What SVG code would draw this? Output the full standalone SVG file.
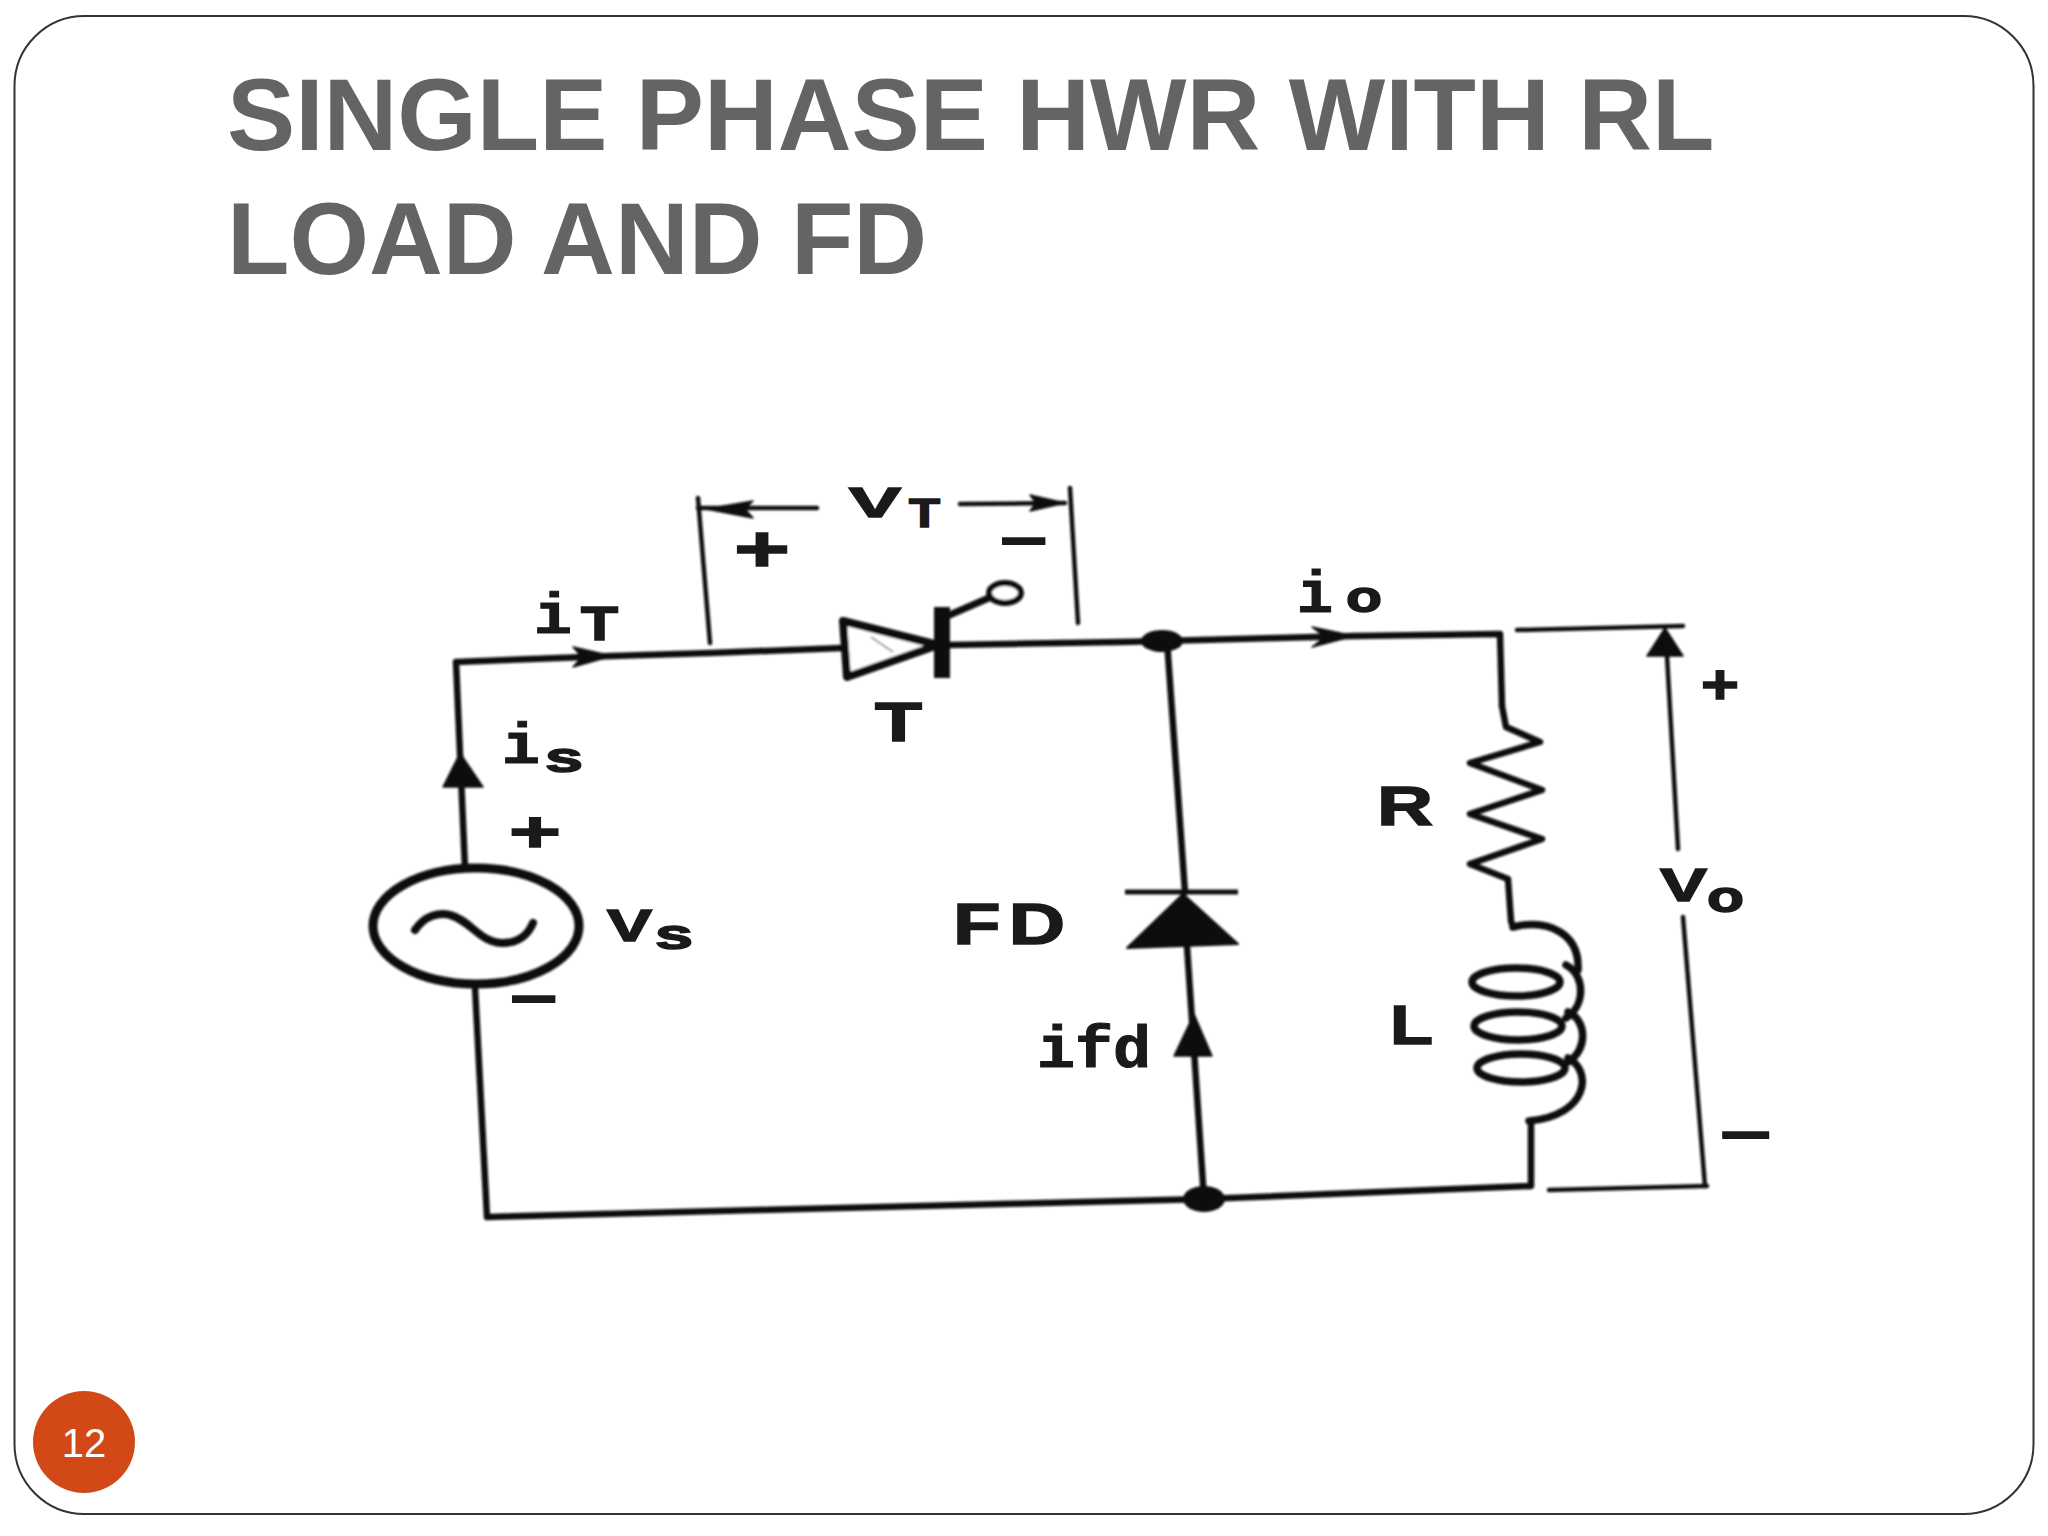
<svg xmlns="http://www.w3.org/2000/svg" width="2048" height="1536" viewBox="0 0 2048 1536">
<style>
.title{font-family:"Liberation Sans",Arial,sans-serif;font-weight:700;font-size:102.2px;fill:#646464}
.lb{font-family:"Liberation Sans",Arial,sans-serif;font-weight:700;fill:#1a1a1a;stroke:#1a1a1a;stroke-width:1.5}
.mn{font-family:"Liberation Mono",monospace;font-weight:700;fill:#1a1a1a;stroke:#1a1a1a;stroke-width:1}
.w{fill:none;stroke:#111;stroke-width:6.5;stroke-linecap:round;stroke-linejoin:round}
.c{fill:none;stroke:#111;stroke-width:7.5;stroke-linecap:round;stroke-linejoin:round}
.t{fill:none;stroke:#111;stroke-width:4.500;stroke-linecap:round}
.f{fill:#111;stroke:#111;stroke-width:1.5;stroke-linejoin:round}
</style>
<defs><filter id="soft" x="-5%" y="-5%" width="110%" height="110%"><feGaussianBlur stdDeviation="0.9"/></filter></defs>
<rect width="2048" height="1536" fill="#fff"/>
<rect id="frame" x="14.500" y="16" width="2019" height="1498" rx="70" ry="70" fill="#fff" stroke="#333" stroke-width="2"/>
<g id="title">
<text class="title" x="227" y="150">SINGLE PHASE HWR WITH RL</text>
<text class="title" x="227" y="274">LOAD AND FD</text>
</g>
<g id="page-number">
<circle cx="84" cy="1442" r="51" fill="#d34817"/>
<text x="84" y="1457" text-anchor="middle" font-family="'Liberation Sans',Arial,sans-serif" font-size="40" fill="#fff">12</text>
</g>
<g filter="url(#soft)">
<g id="connectors">
<path class="w" d="M465 868L456 662L612 656L710 653L842 648"/>
<path class="w" d="M947 645L1120 642L1162 641L1354 636L1500 634L1502 706"/>
<path class="t" d="M1517 630L1683 626"/>
<path class="w" d="M475 987L487 1217L840 1208L1204 1199L1531 1186L1531 1121"/>
<path class="t" d="M1549 1190L1707 1186"/>
<path class="w" d="M1167 641L1185 892"/>
<path class="w" d="M1187 946L1204 1199"/>
<path class="t" d="M698 498L710 643"/>
<path class="t" d="M1070 488L1078 623"/>
<path class="t" d="M698 508L817 508"/>
<path class="t" d="M960 504L1065 503"/>
<path class="t" d="M1667 656L1678 849"/>
<path class="t" d="M1683 917L1705 1186"/>
<path class="f" d="M706 509L753 501L745 509L753 518Z"/>
<path class="f" d="M1065 503L1030 495L1036 503L1030 511Z"/>
<path class="f" d="M612 656L573 647L582 657L573 667L612 656Z"/>
<path class="f" d="M1354 636L1312 627L1325 637L1312 647Z"/>
<path class="f" d="M460 753L443 787L483 787Z"/>
<path class="f" d="M1194 1014L1174 1056L1212 1056Z"/>
<path class="f" d="M1665 628L1647 656L1683 656Z"/>
</g>
<g id="node-top"><ellipse cx="1162" cy="641" rx="21" ry="11" fill="#111"/></g>
<g id="node-bottom"><ellipse cx="1204" cy="1199" rx="21" ry="13" fill="#111"/></g>
<g id="source">
<ellipse cx="476" cy="926" rx="103" ry="58" fill="none" stroke="#111" stroke-width="9"/>
<path d="M415 930C425 915 440 912 450 915C470 920 480 943 503 943C518 943 528 935 533 923" fill="none" stroke="#111" stroke-width="8" stroke-linecap="round"/>
</g>
<g id="thyristor">
<path d="M843 621L938 645L847 677Z" fill="#fff" stroke="#111" stroke-width="8" stroke-linejoin="round"/>
<path d="M871 637L893 652" stroke="#999" stroke-width="2"/>
<rect x="934" y="607" width="16" height="71" fill="#111"/>
<path d="M945 617L991 597" stroke="#111" stroke-width="7"/>
<ellipse cx="1005" cy="593" rx="16" ry="10" fill="#fff" stroke="#111" stroke-width="6"/>
</g>
<g id="freewheeling-diode">
<path d="M1125 892H1238" stroke="#111" stroke-width="5"/>
<path d="M1183 894L1238 944L1127 948Z" fill="#111" stroke="#111" stroke-width="2" stroke-linejoin="round"/>
</g>
<g id="resistor">
<path class="w" d="M1502 706L1506 727L1540 742L1470 763L1542 790L1470 814L1542 839L1470 864L1508 879L1511 921L1513 927"/>
</g>
<g id="inductor">
<path class="c" d="M1513 927C1550 918 1580 935 1578 970"/>
<path class="c" d="M1566 965C1585 975 1586 1005 1566 1018"/>
<path class="c" d="M1568 1012C1587 1020 1588 1050 1568 1062"/>
<path class="c" d="M1568 1058C1592 1070 1590 1115 1529 1121"/>
<ellipse class="c" cx="1516" cy="982" rx="44" ry="14"/>
<ellipse class="c" cx="1518" cy="1026" rx="44" ry="14"/>
<ellipse class="c" cx="1521" cy="1068" rx="44" ry="14"/>
</g>
</g>
<g id="labels">
<text class="lb" font-size="42" x="849" y="517" textLength="52" lengthAdjust="spacingAndGlyphs">V</text>
<text class="lb" font-size="40" x="909" y="527" textLength="31" lengthAdjust="spacingAndGlyphs">T</text>
<text class="lb" font-size="64" x="734" y="571" textLength="56" lengthAdjust="spacingAndGlyphs">+</text>
<text class="lb" font-size="56" x="1000" y="560" textLength="48" lengthAdjust="spacingAndGlyphs">−</text>
<text class="mn" font-size="58" x="534" y="633" textLength="38" lengthAdjust="spacingAndGlyphs">i</text>
<text class="lb" font-size="48" x="581" y="640" textLength="37" lengthAdjust="spacingAndGlyphs">T</text>
<text class="mn" font-size="58" x="502" y="763" textLength="38" lengthAdjust="spacingAndGlyphs">i</text>
<text class="lb" font-size="42" x="545" y="772" textLength="38" lengthAdjust="spacingAndGlyphs">s</text>
<text class="lb" font-size="58" x="509" y="852" textLength="52" lengthAdjust="spacingAndGlyphs">+</text>
<text class="lb" font-size="44" x="607" y="941" textLength="45" lengthAdjust="spacingAndGlyphs">V</text>
<text class="lb" font-size="42" x="655" y="949" textLength="38" lengthAdjust="spacingAndGlyphs">s</text>
<text class="lb" font-size="56" x="510" y="1018" textLength="48" lengthAdjust="spacingAndGlyphs">−</text>
<text class="lb" font-size="56" x="875" y="741" textLength="47" lengthAdjust="spacingAndGlyphs">T</text>
<text class="mn" font-size="60" x="1297" y="612" textLength="36" lengthAdjust="spacingAndGlyphs">i</text>
<text class="lb" font-size="44" x="1346" y="612" textLength="36" lengthAdjust="spacingAndGlyphs">o</text>
<text class="lb" font-size="58" x="953" y="944" textLength="120" lengthAdjust="spacingAndGlyphs" letter-spacing="6">FD</text>
<text class="mn" font-size="60" x="1037" y="1067" textLength="114" lengthAdjust="spacingAndGlyphs">ifd</text>
<text class="lb" font-size="56" x="1377" y="825" textLength="56" lengthAdjust="spacingAndGlyphs">R</text>
<text class="lb" font-size="56" x="1390" y="1044" textLength="43" lengthAdjust="spacingAndGlyphs">L</text>
<text class="lb" font-size="56" x="1701" y="703" textLength="38" lengthAdjust="spacingAndGlyphs">+</text>
<text class="lb" font-size="46" x="1660" y="901" textLength="47" lengthAdjust="spacingAndGlyphs">V</text>
<text class="lb" font-size="44" x="1707" y="912" textLength="37" lengthAdjust="spacingAndGlyphs">o</text>
<text class="lb" font-size="56" x="1720" y="1154" textLength="52" lengthAdjust="spacingAndGlyphs">−</text>
</g>
</svg>
